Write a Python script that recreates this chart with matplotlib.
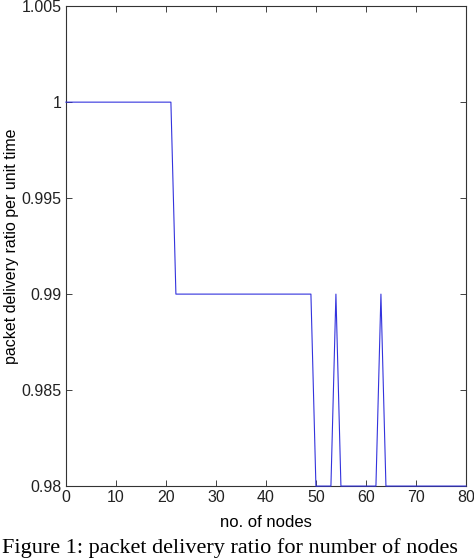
import matplotlib
matplotlib.use("Agg")
import matplotlib.pyplot as plt

# number of nodes and the delivery ratio
nodes = list(range(0, 81))
ratio = [1.0, 1.0, 1.0, 1.0, 1.0, 1.0, 1.0, 1.0, 1.0, 1.0,
         1.0, 1.0, 1.0, 1.0, 1.0, 1.0, 1.0, 1.0, 1.0, 1.0,
         1.0, 1.0, 0.99, 0.99, 0.99, 0.99, 0.99, 0.99, 0.99, 0.99,
         0.99, 0.99, 0.99, 0.99, 0.99, 0.99, 0.99, 0.99, 0.99, 0.99,
         0.99, 0.99, 0.99, 0.99, 0.99, 0.99, 0.99, 0.99, 0.99, 0.99,
         0.98, 0.98, 0.98, 0.98, 0.99, 0.98, 0.98, 0.98, 0.98, 0.98,
         0.98, 0.98, 0.98, 0.99, 0.98, 0.98, 0.98, 0.98, 0.98, 0.98,
         0.98, 0.98, 0.98, 0.98, 0.98, 0.98, 0.98, 0.98, 0.98, 0.98,
         0.98]

xticks = [0, 10, 20, 30, 40, 50, 60, 70, 80]
yticks = [0.98, 0.985, 0.99, 0.995, 1.0, 1.005]
ytick_labels = ["0.98", "0.985", "0.99", "0.995", "1", "1.005"]

plt.rcParams['font.family'] = ['Liberation Sans', 'DejaVu Sans']

fig = plt.figure(figsize=(4.74, 5.6), dpi=100)
ax = fig.add_axes([0.139, 0.132, 0.844, 0.857])

ax.plot(nodes, ratio, color="#3333dd", linewidth=0.8, clip_on=False, zorder=3)

ax.set_xlim(0, 80)
ax.set_ylim(0.98, 1.005)
ax.set_xticks(xticks)
ax.set_yticks(yticks)
ax.set_yticklabels(ytick_labels)

ax.tick_params(direction="in", length=4, width=0.6, top=True, right=True,
               labelsize=11.5, colors="#222222", pad=3)
for s in ax.spines.values():
    s.set_color("#333333")
    s.set_linewidth(0.8)

ax.set_xlabel("no. of nodes", fontsize=12, labelpad=7)
ax.set_ylabel("packet delivery ratio per unit time", fontsize=11.5)
ax.yaxis.set_label_coords(-0.118, 0.5)

fig.text(0.005, 0.040, "Figure 1: packet delivery ratio for number of nodes",
         fontsize=16, family=['Liberation Serif', 'DejaVu Serif'], va="top", ha="left")

fig.savefig("out.png", dpi=100)
